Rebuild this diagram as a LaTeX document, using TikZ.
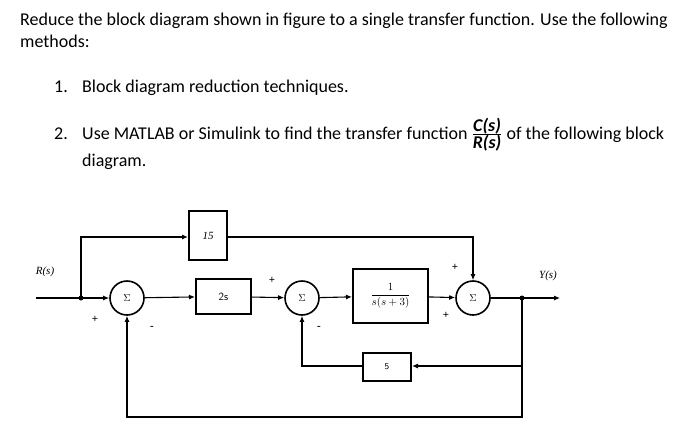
\documentclass[tikz,border=0pt]{standalone}
\usepackage{fontspec}
\setmainfont{Carlito}
\newfontfamily\tnr{Liberation Serif}
\usetikzlibrary{arrows.meta}
\begin{document}
\begin{tikzpicture}[x=1pt,y=-1pt,
  txt/.style={anchor=base west,inner sep=0,font=\fontsize{18}{21}\selectfont},
  blk/.style={draw,line width=2pt,inner sep=0,font=\tnr\fontsize{11}{13}\selectfont},
  sumn/.style={draw,circle,line width=1.6pt,minimum size=34pt,inner sep=0,font=\tnr\fontsize{10}{12}\selectfont},
  sig/.style={line width=1.1pt},
  arr/.style={sig,-{Latex[length=6pt,width=5pt]}},
  sgn/.style={font=\tnr\bfseries\fontsize{11}{12}\selectfont,inner sep=0},
  lab/.style={font=\tnr\itshape\fontsize{11}{12}\selectfont,inner sep=0}]
\useasboundingbox (0,0) rectangle (700,436);
\node[txt] (t1) at (20,26) {Reduce the block diagram shown in figure to a single transfer function. Use the following};
\node[txt] (t2) at (20,48) {methods:};
\node[txt] (n1) at (54,92) {1.};
\node[txt] (i1) at (82,92) {Block diagram reduction techniques.};
\node[txt] (n2) at (54,139) {2.};
\node[txt] (i2) at (82,139) {Use MATLAB or Simulink to find the transfer function $\frac{\textbf{\textit{C(s)}}}{\textbf{\textit{R(s)}}}$ of the following block};
\node[txt] (i3) at (82,166) {diagram.};
% diagram
\coordinate (in) at (36,298);
\coordinate (br) at (81,298);
\node[sumn] (s1) at (127,298) {$\Sigma$};
\node[blk,minimum width=55pt,minimum height=35pt] (b2s) at (223.5,296.5) {\sffamily 2s};
\node[blk,minimum width=38pt,minimum height=49pt] (b15) at (208,235.5) {\itshape 15};
\node[sumn] (s2) at (302,298) {$\Sigma$};
\node[blk,minimum width=75pt,minimum height=54pt] (bg) at (390.5,296) {$\displaystyle\frac{1}{s(s+3)}$};
\node[sumn] (s3) at (473,298) {$\Sigma$};
\coordinate (od) at (522,298);
\coordinate (out) at (560,298);
\node[blk,minimum width=48pt,minimum height=28pt] (b5) at (387,367) {\sffamily\fontsize{9}{10}\selectfont 5};
\draw[sig] (in) -- (br);
\draw[arr] (br) -- (s1);
\fill (br) circle (2.5pt);
\draw[arr] (br) |- (b15.west |- 0,237);
\draw[arr] (b15.east |- 0,237) -| (s3.north);
\draw[arr] (s1) -- (b2s);
\draw[arr] (b2s) -- (s2);
\draw[arr] (s2) -- (bg);
\draw[arr] (bg) -- (s3);
\draw[arr] (s3) -- (out);
\fill (od) circle (2.5pt);
\draw[arr] (od) |- (b5.east |- 0,366);
\draw[arr] (b5.west |- 0,366) -| (s2.south);
\draw[arr] (od) |- (127,417) -- (s1.south);
% labels
\node[lab] (lr) at (45,272) {R(s)};
\node[lab] (ly) at (548,276) {Y(s)};
\node[sgn] (p1) at (95,319) {+};
\node[sgn] (m1) at (152,328) {-};
\node[sgn] (p2) at (272,280) {+};
\node[sgn] (m2) at (319,328) {-};
\node[sgn] (p3) at (455,267) {+};
\node[sgn] (p4) at (446,315) {+};
\end{tikzpicture}
\end{document}
